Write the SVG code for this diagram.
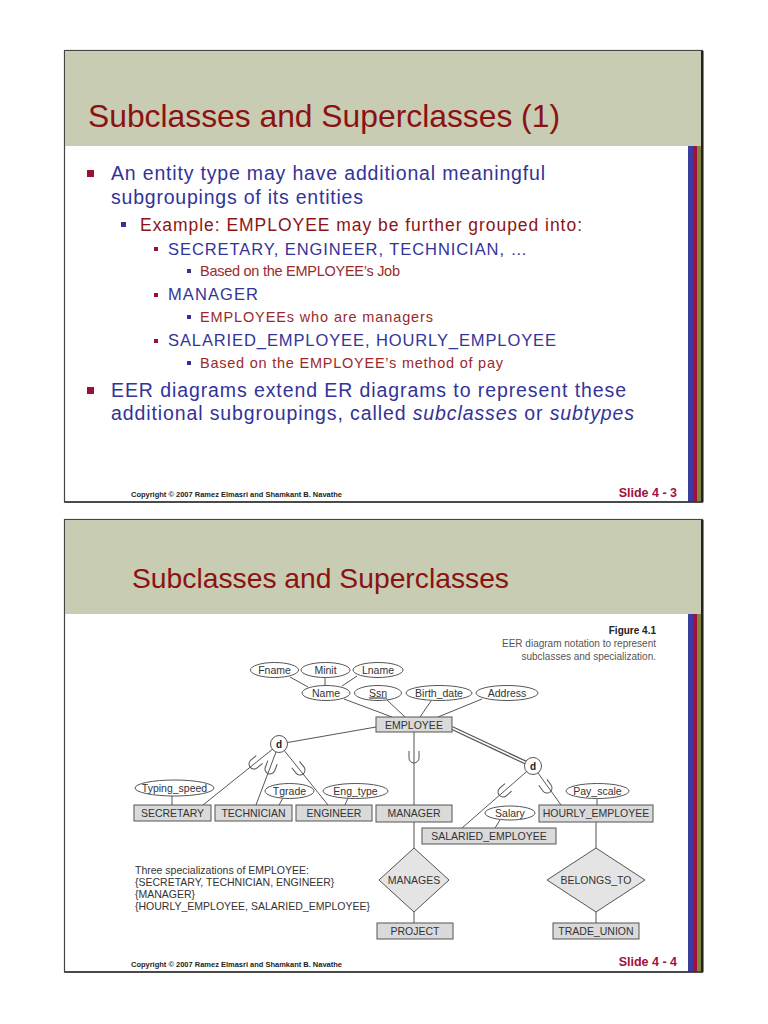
<svg xmlns="http://www.w3.org/2000/svg" width="768" height="1024" viewBox="0 0 768 1024">
<defs>
<style>
.frame{fill:#fff;stroke:#444;stroke-width:1.2}
.band{fill:#c8ccb3}
.title{font-family:"Liberation Sans",Arial,sans-serif;fill:#8b1212}
.b1{font-family:"Liberation Sans",Arial,sans-serif;font-size:19.5px;fill:#333399}
.b2{font-family:"Liberation Sans",Arial,sans-serif;font-size:17.5px;fill:#8b1515}
.b3{font-family:"Liberation Sans",Arial,sans-serif;font-size:16.5px;fill:#333399}
.b4{font-family:"Liberation Sans",Arial,sans-serif;font-size:14.5px;fill:#9a2a2a}
.bm{fill:#991133}
.bb{fill:#333399}
.copy{font-family:"Liberation Sans Narrow","Liberation Sans",Arial,sans-serif;font-size:7.5px;font-weight:bold;fill:#222}
.slide{font-family:"Liberation Sans Narrow","Liberation Sans",Arial,sans-serif;font-size:12.5px;font-weight:bold;fill:#a0103c}
.ent{fill:#dadada;stroke:#555;stroke-width:1}
.att{fill:#fff;stroke:#555;stroke-width:1}
.rel{fill:#e4e4e4;stroke:#555;stroke-width:1}
.lbl{font-family:"Liberation Sans",Arial,sans-serif;font-size:10.5px;fill:#333;text-anchor:middle}
.albl{font-family:"Liberation Sans",Arial,sans-serif;font-size:10.5px;fill:#333;text-anchor:middle}
.cap{font-family:"Liberation Sans",Arial,sans-serif;font-size:10px;fill:#555;text-anchor:end}
.leg{font-family:"Liberation Sans",Arial,sans-serif;font-size:10.5px;fill:#333}
.ln{stroke:#555;stroke-width:1;fill:none}
.sub{stroke:#555;stroke-width:1;fill:none}
</style>
<path id="u" d="M -5 -7 L -5 0 A 5 5 0 0 0 5 0 L 5 -7"/>
</defs>

<rect width="768" height="1024" fill="#fff"/>

<!-- Slide 1 -->
<g id="slide1">
<rect class="frame" x="64.5" y="50.5" width="638" height="451.5"/>
<rect class="band" x="65" y="51" width="637" height="95"/>
<rect x="688" y="146" width="5" height="356" fill="#3b3ba0"/>
<rect x="693" y="146" width="4" height="356" fill="#a0103f"/>
<rect x="697" y="146" width="4" height="356" fill="#83833f"/>
<rect x="701" y="51" width="2.5" height="451" fill="#222"/>
<line x1="64.5" y1="502" x2="703" y2="502" stroke="#333" stroke-width="1.5"/>
<text class="title" x="88" y="127" font-size="31.5" textLength="472" lengthAdjust="spacingAndGlyphs">Subclasses and Superclasses (1)</text>

<rect class="bm" x="87" y="170" width="7" height="7"/>
<text class="b1" x="111" y="180" textLength="434" lengthAdjust="spacing">An entity type may have additional meaningful</text>
<text class="b1" x="111" y="204" textLength="252" lengthAdjust="spacing">subgroupings of its entities</text>
<rect class="bb" x="121" y="222" width="5" height="5"/>
<text class="b2" x="140" y="231" textLength="442" lengthAdjust="spacing">Example: EMPLOYEE may be further grouped into:</text>
<rect class="bm" x="154" y="247" width="4" height="4"/>
<text class="b3" x="168" y="255" textLength="359" lengthAdjust="spacing">SECRETARY, ENGINEER, TECHNICIAN, …</text>
<rect class="bb" x="187" y="269" width="4" height="4"/>
<text class="b4" x="200" y="276" textLength="200" lengthAdjust="spacing">Based on the EMPLOYEE’s Job</text>
<rect class="bm" x="154" y="293" width="4" height="4"/>
<text class="b3" x="168" y="300" textLength="90" lengthAdjust="spacing">MANAGER</text>
<rect class="bb" x="187" y="315" width="4" height="4"/>
<text class="b4" x="200" y="322" textLength="233" lengthAdjust="spacing">EMPLOYEEs who are managers</text>
<rect class="bm" x="154" y="339" width="4" height="4"/>
<text class="b3" x="168" y="346" textLength="388" lengthAdjust="spacing">SALARIED_EMPLOYEE, HOURLY_EMPLOYEE</text>
<rect class="bb" x="187" y="361" width="4" height="4"/>
<text class="b4" x="200" y="368" textLength="303" lengthAdjust="spacing">Based on the EMPLOYEE’s method of pay</text>
<rect class="bm" x="87" y="387" width="7" height="7"/>
<text class="b1" x="111" y="397" textLength="515" lengthAdjust="spacing">EER diagrams extend ER diagrams to represent these</text>
<text class="b1" x="111" y="420" textLength="523" lengthAdjust="spacing">additional subgroupings, called <tspan font-style="italic">subclasses</tspan> or <tspan font-style="italic">subtypes</tspan></text>

<text class="copy" x="131" y="497" textLength="211" lengthAdjust="spacingAndGlyphs">Copyright © 2007 Ramez Elmasri and Shamkant B. Navathe</text>
<text class="slide" x="677" y="497" text-anchor="end">Slide 4 - 3</text>
</g>

<!-- Slide 2 -->
<g id="slide2">
<rect class="frame" x="64.5" y="519.5" width="638" height="452.5"/>
<rect class="band" x="65" y="520" width="637" height="94"/>
<rect x="688" y="614" width="5" height="358" fill="#3b3ba0"/>
<rect x="693" y="614" width="4" height="358" fill="#a0103f"/>
<rect x="697" y="614" width="4" height="358" fill="#83833f"/>
<rect x="701" y="520" width="2.5" height="452" fill="#222"/>
<line x1="64.5" y1="972" x2="703" y2="972" stroke="#333" stroke-width="1.5"/>
<text class="title" x="132" y="588" font-size="27.5" textLength="377" lengthAdjust="spacingAndGlyphs">Subclasses and Superclasses</text>

<text class="cap" x="656" y="634" font-weight="bold" style="fill:#222">Figure 4.1</text>
<text class="cap" x="656" y="647">EER diagram notation to represent</text>
<text class="cap" x="656" y="660">subclasses and specialization.</text>

<text class="leg" x="135" y="874">Three specializations of EMPLOYEE:</text>
<text class="leg" x="135" y="886">{SECRETARY, TECHNICIAN, ENGINEER}</text>
<text class="leg" x="135" y="898">{MANAGER}</text>
<text class="leg" x="135" y="910">{HOURLY_EMPLOYEE, SALARIED_EMPLOYEE}</text>

<text class="copy" x="131" y="967" textLength="211" lengthAdjust="spacingAndGlyphs">Copyright © 2007 Ramez Elmasri and Shamkant B. Navathe</text>
<text class="slide" x="677" y="966" text-anchor="end">Slide 4 - 4</text>
</g>

<!-- Connectors -->
<g id="connectors">
<line class="ln" x1="290" y1="677" x2="308" y2="687"/>
<line class="ln" x1="325" y1="677" x2="325" y2="685"/>
<line class="ln" x1="357" y1="676" x2="342" y2="686"/>
<line class="ln" x1="344" y1="699" x2="392" y2="717"/>
<line class="ln" x1="387" y1="700" x2="405" y2="717"/>
<line class="ln" x1="431" y1="701" x2="420" y2="717"/>
<line class="ln" x1="482" y1="699" x2="438" y2="717"/>
<line class="ln" x1="279" y1="744" x2="376" y2="727"/>
<line class="ln" x1="279" y1="744" x2="203" y2="805"/>
<line class="ln" x1="279" y1="744" x2="256" y2="805"/>
<line class="ln" x1="279" y1="744" x2="328" y2="805"/>
<line class="ln" x1="414" y1="732" x2="414" y2="805"/>
<line class="ln" x1="414" y1="822" x2="414" y2="848"/>
<line class="ln" x1="414" y1="912" x2="414" y2="923"/>
<line x1="452" y1="728" x2="533" y2="766" stroke="#555" stroke-width="4"/>
<line x1="452" y1="728" x2="533" y2="766" stroke="#fff" stroke-width="1.6"/>
<line class="ln" x1="533" y1="766" x2="462" y2="828"/>
<line class="ln" x1="533" y1="766" x2="561" y2="805"/>
<line class="ln" x1="596" y1="822" x2="596" y2="848"/>
<line class="ln" x1="596" y1="912" x2="596" y2="923"/>
<line class="ln" x1="172" y1="796" x2="172" y2="805"/>
<line class="ln" x1="283" y1="798" x2="279" y2="805"/>
<line class="ln" x1="348" y1="798" x2="345" y2="805"/>
<line class="ln" x1="597" y1="798" x2="597" y2="805"/>
<line class="ln" x1="500" y1="820" x2="495" y2="828"/>
<use href="#u" class="sub" transform="translate(254,764) rotate(51)"/>
<use href="#u" class="sub" transform="translate(270,769) rotate(21)"/>
<use href="#u" class="sub" transform="translate(300,770) rotate(-39)"/>
<use href="#u" class="sub" transform="translate(414,758)"/>
<use href="#u" class="sub" transform="translate(503,792) rotate(49)"/>
<use href="#u" class="sub" transform="translate(547,788) rotate(-36)"/>
</g>

<!-- Attributes -->
<g id="att-fname"><ellipse class="att" cx="274.5" cy="670" rx="24" ry="7.5"/><text class="albl" x="274.5" y="673.5">Fname</text></g>
<g id="att-minit"><ellipse class="att" cx="325.5" cy="670" rx="24.5" ry="7.5"/><text class="albl" x="325.5" y="673.5">Minit</text></g>
<g id="att-lname"><ellipse class="att" cx="378" cy="670" rx="25" ry="7.5"/><text class="albl" x="378" y="673.5">Lname</text></g>
<g id="att-name"><ellipse class="att" cx="326" cy="693" rx="24" ry="7.5"/><text class="albl" x="326" y="696.5">Name</text></g>
<g id="att-ssn"><ellipse class="att" cx="378" cy="693" rx="23.5" ry="7.5"/><text class="albl" x="378" y="696.5" text-decoration="underline">Ssn</text></g>
<g id="att-birth"><ellipse class="att" cx="439" cy="693" rx="33" ry="7.5"/><text class="albl" x="439" y="696.5">Birth_date</text></g>
<g id="att-address"><ellipse class="att" cx="507" cy="693" rx="31" ry="7.5"/><text class="albl" x="507" y="696.5">Address</text></g>
<g id="att-typing"><ellipse class="att" cx="174.5" cy="788" rx="39.5" ry="8"/><text class="albl" x="174.5" y="791.5">Typing_speed</text></g>
<g id="att-tgrade"><ellipse class="att" cx="289.5" cy="791" rx="24.5" ry="7.5"/><text class="albl" x="289.5" y="794.5">Tgrade</text></g>
<g id="att-engtype"><ellipse class="att" cx="355.5" cy="791" rx="32.5" ry="7.5"/><text class="albl" x="355.5" y="794.5">Eng_type</text></g>
<g id="att-payscale"><ellipse class="att" cx="597.5" cy="791" rx="31.5" ry="7.5"/><text class="albl" x="597.5" y="794.5">Pay_scale</text></g>
<g id="att-salary"><ellipse class="att" cx="510" cy="813" rx="25" ry="7"/><text class="albl" x="510" y="816.5">Salary</text></g>

<!-- Specialization circles -->
<g id="spec-d1"><circle cx="279" cy="744" r="8.5" fill="#fff" stroke="#555"/><text x="279" y="747.5" font-family="Liberation Sans,Arial,sans-serif" font-size="10" font-weight="bold" fill="#222" text-anchor="middle">d</text></g>
<g id="spec-d2"><circle cx="533" cy="766" r="8.5" fill="#fff" stroke="#555"/><text x="533" y="769.5" font-family="Liberation Sans,Arial,sans-serif" font-size="10" font-weight="bold" fill="#222" text-anchor="middle">d</text></g>

<!-- Entities -->
<g id="ent-employee"><rect class="ent" x="376" y="717" width="76" height="15"/><text class="lbl" x="414" y="728.5">EMPLOYEE</text></g>
<g id="ent-secretary"><rect class="ent" x="134" y="805" width="77" height="16"/><text class="lbl" x="172.5" y="816.5">SECRETARY</text></g>
<g id="ent-technician"><rect class="ent" x="215" y="805" width="77" height="16"/><text class="lbl" x="253.5" y="816.5">TECHNICIAN</text></g>
<g id="ent-engineer"><rect class="ent" x="296" y="805" width="76" height="16"/><text class="lbl" x="334" y="816.5">ENGINEER</text></g>
<g id="ent-manager"><rect class="ent" x="376" y="805" width="76" height="17"/><text class="lbl" x="414" y="817">MANAGER</text></g>
<g id="ent-hourly"><rect class="ent" x="539" y="805" width="114" height="17"/><text class="lbl" x="596" y="817">HOURLY_EMPLOYEE</text></g>
<g id="ent-salaried"><rect class="ent" x="422" y="828" width="134" height="16"/><text class="lbl" x="489" y="840">SALARIED_EMPLOYEE</text></g>
<g id="ent-project"><rect class="ent" x="377" y="923" width="76" height="16"/><text class="lbl" x="415" y="935">PROJECT</text></g>
<g id="ent-tradeunion"><rect class="ent" x="553" y="923" width="86" height="16"/><text class="lbl" x="596" y="935">TRADE_UNION</text></g>

<!-- Relationships -->
<g id="rel-manages"><polygon class="rel" points="414,848 449,880 414,912 379,880"/><text class="lbl" x="414" y="884">MANAGES</text></g>
<g id="rel-belongs"><polygon class="rel" points="596,848 645,880 596,912 547,880"/><text class="lbl" x="596" y="884">BELONGS_TO</text></g>
</svg>
